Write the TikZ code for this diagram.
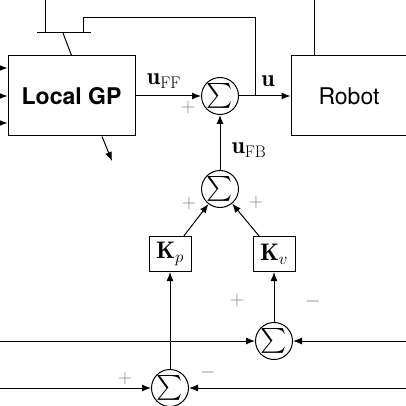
\RequirePackage{fix-cm}
\documentclass[tikz,border=0pt]{standalone}
\usepackage{exscale}
\usepackage{fontspec}
\newfontfamily\heros{TeX Gyre Heros}
\usetikzlibrary{arrows.meta}
\begin{document}
\begin{tikzpicture}[x=1pt,y=-1pt,line width=1pt,
  >={Latex[length=9pt,width=7pt]},
  every node/.style={font=\fontsize{24}{28}\selectfont},
  block/.style={draw,minimum width=127pt,minimum height=80pt,inner sep=0pt,
    font=\fontsize{23}{27}\selectfont\heros},
  gain/.style={draw,minimum width=42pt,minimum height=35pt,inner sep=0pt},
  sumnode/.style={draw,circle,minimum size=37pt,inner sep=0pt},
  sign/.style={gray,font=\fontsize{20}{22}\selectfont}]
\useasboundingbox (0,0) rectangle (406,406);

% blocks
\node[block] (gp) at (71.5,96) {\bfseries Local GP};
\node[block,minimum width=116pt] (robot) at (349,96) {Robot};
\node[sumnode] (s1) at (220,96) {$\sum$};
\node[sumnode] (s2) at (220,189) {$\sum$};
\node[gain] (kp) at (170,254) {$\mathbf{K}_p$};
\node[gain] (kv) at (274,254) {$\mathbf{K}_v$};
\node[sumnode] (s3) at (274,341) {$\sum$};
\node[sumnode] (s4) at (170,388) {$\sum$};

% labels
\node (uff) at (164,81) {$\mathbf{u}_{\mathrm{FF}}$};
\node (ulab) at (268,81) {$\mathbf{u}$};
\node (ufb) at (249,150) {$\mathbf{u}_{\mathrm{FB}}$};
\node[sign] (p1) at (188,108) {$+$};
\node[sign] (p2) at (189,203) {$+$};
\node[sign] (p3) at (256,202) {$+$};
\node[sign] (p4) at (237,300) {$+$};
\node[sign] (m1) at (313,301) {$-$};
\node[sign] (p5) at (125,378) {$+$};
\node[sign] (m2) at (208,372) {$-$};

% switch on top of the GP
\coordinate (barL) at (37,33);
\coordinate (barR) at (91,33);
\coordinate (barM) at (63,33);
\coordinate (intop) at (45,-2);
\coordinate (utap) at (255,96);
\coordinate (fb) at (83,18);
\draw (barL) -- (barR);
\draw (intop) -- (intop |- barL);
\draw (barM) -- (gp.north);
\draw (utap) |- (fb) -- (fb |- barL);
\draw ([xshift=-35pt]robot.north) -- ++(0,-60);

% inputs of the GP
\foreach \y in {68,96,123} {
  \coordinate (gin) at (-5,\y);
  \draw[->] (gin) -- (gin -| gp.west);
  }
\coordinate (gpout) at (112,161);
\draw[->] ([xshift=30.5pt]gp.south) -- (gpout);

% forward path
\draw[->] (gp) -- (s1);
\draw[->] (s1) -- (robot);
\draw[->] (s2) -- (s1);
\draw[->] (kp) -- (s2);
\draw[->] (kv) -- (s2);
\draw[->] (s3) -- (kv);
\draw[->] (s4) -- (kp);

% error sums
\coordinate (in3l) at (-5,341);
\coordinate (in3r) at (411,341);
\coordinate (in4l) at (-5,388);
\coordinate (in4r) at (411,388);
\draw[->] (in3l) -- (s3);
\draw[->] (in3r) -- (s3);
\draw[->] (in4l) -- (s4);
\draw[->] (in4r) -- (s4);
\draw (s4.south) -- ++(0,25);
\end{tikzpicture}
\end{document}
